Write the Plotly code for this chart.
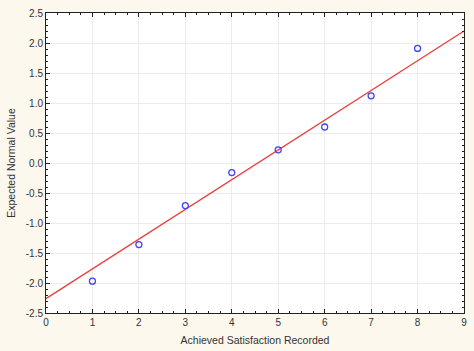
import plotly.graph_objects as go

x_vals = [1, 2, 3, 4, 5, 6, 7, 8]
y_vals = [-1.97, -1.36, -0.71, -0.16, 0.22, 0.60, 1.12, 1.91]
line_x = [0, 9]
line_y = [-2.26, 2.20]
x_ticks = [0, 1, 2, 3, 4, 5, 6, 7, 8, 9]
y_ticks = [-2.5, -2.0, -1.5, -1.0, -0.5, 0.0, 0.5, 1.0, 1.5, 2.0, 2.5]

fig = go.Figure()
fig.add_trace(go.Scatter(x=line_x, y=line_y, mode="lines",
                         line=dict(color="#e8413f", width=1.3), showlegend=False))
fig.add_trace(go.Scatter(x=x_vals, y=y_vals, mode="markers",
                         marker=dict(symbol="circle-open", size=6, color="#4444ee",
                                     line=dict(width=1.3, color="#4444ee")),
                         showlegend=False))

axis_common = dict(showline=True, linecolor="#222", linewidth=1, mirror="allticks",
                   ticks="inside", ticklen=4, tickcolor="#222", automargin=False,
                   showgrid=True, gridcolor="#ececec", gridwidth=1, zeroline=False,
                   tickfont=dict(family="Liberation Sans, Arial", size=10, color="#333"))

fig.update_xaxes(range=[0, 9], tickvals=x_ticks, ticktext=[str(v) for v in x_ticks],
                 title=dict(text="Achieved Satisfaction Recorded", standoff=9,
                            font=dict(family="Liberation Sans, Arial", size=10.5, color="#333")),
                 minor=dict(ticks="inside", ticklen=2, dtick=0.25, tickcolor="#222", showgrid=False),
                 **axis_common)
fig.update_yaxes(range=[-2.5, 2.5], tickvals=y_ticks, ticktext=[f"{v:.1f}" for v in y_ticks],
                 title=dict(text="Expected Normal Value", standoff=8,
                            font=dict(family="Liberation Sans, Arial", size=10.5, color="#333")),
                 minor=dict(ticks="inside", ticklen=2, dtick=0.1, tickcolor="#222", showgrid=False),
                 **axis_common)

fig.update_layout(width=474, height=351, margin=dict(l=46, r=10, t=13, b=38),
                  paper_bgcolor="#fcf8ee", plot_bgcolor="#ffffff")

fig.write_html("out.html")
